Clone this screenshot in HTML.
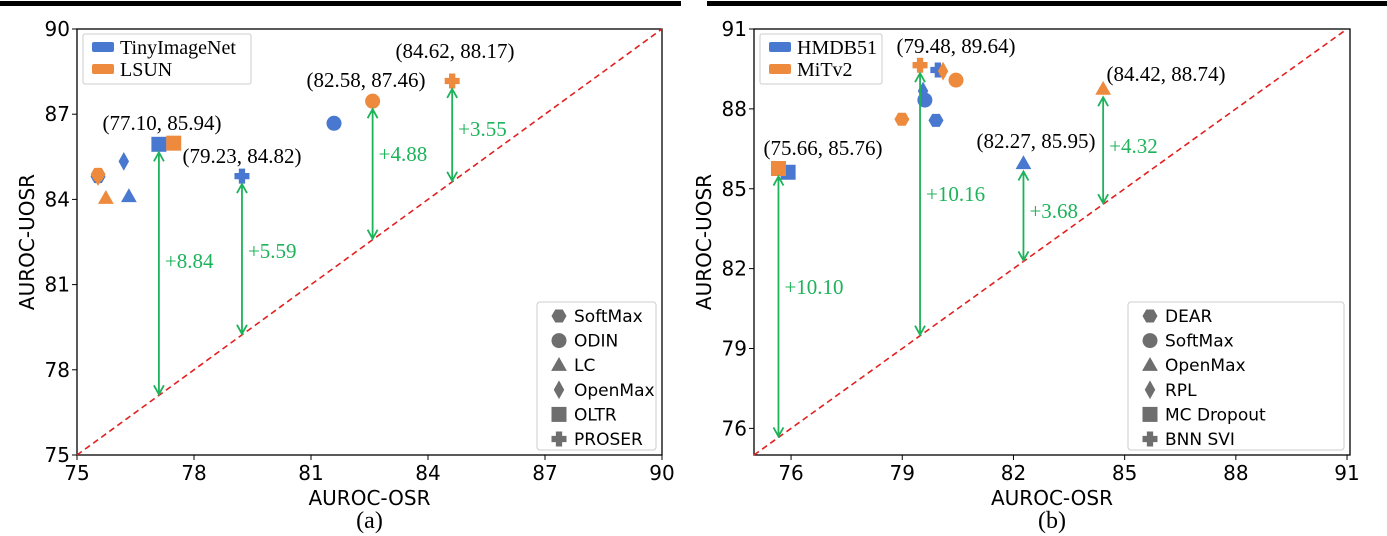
<!DOCTYPE html>
<html><head><meta charset="utf-8"><style>
body{margin:0;background:#fff;width:1387px;height:536px;overflow:hidden}
svg{display:block}
.tick{font-family:"DejaVu Sans","Liberation Sans",sans-serif;font-size:20px;fill:#000}
.ser{font-family:"Liberation Serif",serif;font-size:21px}
</style></head><body>
<svg id="fig" width="1387" height="536" xmlns="http://www.w3.org/2000/svg">
<rect x="0" y="1" width="681" height="5" fill="#000"/>
<rect x="707" y="1" width="680" height="5" fill="#000"/>
</svg>
<script>
// ---- Panel (a) data ----
const aTicks=[75,78,81,84,87,90];
const aMethods=["SoftMax","ODIN","LC","OpenMax","OLTR","PROSER"];
const aShapes=["hex","circle","tri","diamond","square","plus"];
const aBlueX=[75.54,81.59,76.33,76.2,77.10,79.23];
const aBlueY=[84.80,86.68,84.10,85.34,85.94,84.82];
const aOrangeX=[75.54,82.58,75.74,75.54,77.48,84.62];
const aOrangeY=[84.88,87.46,84.04,84.80,85.98,88.17];
const aArrowX=[77.10,79.23,82.58,84.62];
const aArrowY=[85.94,84.82,87.46,88.17];
const aGain=["+8.84","+5.59","+4.88","+3.55"];
// ---- Panel (b) data ----
const bTicks=[76,79,82,85,88,91];
const bMethods=["DEAR","SoftMax","OpenMax","RPL","MC Dropout","BNN SVI"];
const bBlueX=[79.91,79.61,82.27,79.56,75.92,79.96];
const bBlueY=[87.57,88.33,85.95,88.67,85.62,89.46];
const bOrangeX=[78.99,80.45,84.42,80.10,75.66,79.48];
const bOrangeY=[87.61,89.08,88.74,89.42,85.76,89.64];
const bArrowX=[75.66,79.48,82.27,84.42];
const bArrowY=[85.76,89.64,85.95,88.74];
const bGain=["+10.10","+10.16","+3.68","+4.32"];

const NS="http://www.w3.org/2000/svg";
const svg=document.getElementById('fig');
const BLUE="#4878cf",ORANGE="#ee8a3d",GREEN="#1db35a",GRAY="#6e6e6e";
function mk(tag,attrs,parent){const e=document.createElementNS(NS,tag);for(const k in attrs)e.setAttribute(k,attrs[k]);(parent||svg).appendChild(e);return e;}
function marker(shape,cx,cy,r,fill,g){
  let e;
  if(shape==="circle")e=mk("circle",{cx,cy,r,fill},g);
  else if(shape==="square")e=mk("rect",{x:cx-r,y:cy-r,width:2*r,height:2*r,fill},g);
  else if(shape==="tri")e=mk("polygon",{points:`${cx},${cy-r*1.1} ${cx-r*1.05},${cy+r*0.75} ${cx+r*1.05},${cy+r*0.75}`,fill},g);
  else if(shape==="diamond")e=mk("polygon",{points:`${cx},${cy-r*1.25} ${cx+r*0.7},${cy} ${cx},${cy+r*1.25} ${cx-r*0.7},${cy}`,fill},g);
  else if(shape==="hex"){let p=[];for(let i=0;i<6;i++){const a=Math.PI/3*i;p.push((cx+r*Math.cos(a))+","+(cy+r*Math.sin(a)));}e=mk("polygon",{points:p.join(" "),fill},g);}
  else {const w=r*0.42;e=mk("path",{d:`M${cx-w},${cy-r}h${2*w}v${r-w}h${r-w}v${2*w}h${-(r-w)}v${r-w}h${-2*w}v${-(r-w)}h${-(r-w)}v${-2*w}h${r-w}z`,fill},g);}
  return e;
}
function panel(o){
  const g=mk("g",{});
  
  
  const X=v=>o.x0+(v-o.xmin)/(o.xmax-o.xmin)*(o.x1-o.x0);
  const Y=v=>o.y1-(v-o.ymin)/(o.ymax-o.ymin)*(o.y1-o.y0);
  const frame=mk("rect",{x:o.x0,y:o.y0,width:o.x1-o.x0,height:o.y1-o.y0,fill:"none",stroke:"#000","stroke-width":1.3},g);
  
  
  o.ticks.forEach(t=>{
    const tx=mk("line",{x1:X(t),x2:X(t),y1:o.y1,y2:o.y1+5,stroke:"#000"},g);
    
    
    const lx=mk("text",{x:X(t),y:o.y1+25,"text-anchor":"middle",class:"tick"},g);lx.textContent=t;
    
    
  });
  o.yticks.forEach(t=>{
    const ty=mk("line",{x1:o.x0-5,x2:o.x0,y1:Y(t),y2:Y(t),stroke:"#000"},g);
    
    
    const ly=mk("text",{x:o.x0-7,y:Y(t)+7,"text-anchor":"end",class:"tick"},g);ly.textContent=t;
    
    
  });
  const xt=mk("text",{x:(o.x0+o.x1)/2,y:o.y1+50,"text-anchor":"middle",class:"tick"},g);xt.textContent="AUROC-OSR";
  
  
  const yt=mk("text",{x:0,y:0,"text-anchor":"middle",class:"tick",transform:`translate(${o.x0-43},${(o.y0+o.y1)/2}) rotate(-90)`},g);yt.textContent="AUROC-UOSR";
  
  
  const cap=mk("text",{x:(o.x0+o.x1)/2,y:o.y1+73,"text-anchor":"middle",class:"ser",style:"font-size:24px"},g);cap.textContent=o.caption;
  
  
  const lo=Math.max(o.xmin,o.ymin),hi=Math.min(o.xmax,o.ymax);
  const dg=mk("line",{x1:X(lo),y1:Y(lo),x2:X(hi),y2:Y(hi),stroke:"#e32020","stroke-width":1.6,"stroke-dasharray":"6,4"},g);
  
  
  for(let i=0;i<o.shapes.length;i++){
    const b=marker(o.shapes[i],X(o.bx[i]),Y(o.by[i]),7.5,BLUE,g);
    
    
  }
  for(let i=0;i<o.shapes.length;i++){
    const p=marker(o.shapes[i],X(o.ox[i]),Y(o.oy[i]),7.5,ORANGE,g);
    
    
  }
  for(let i=0;i<o.ax.length;i++){
    const x=X(o.ax[i]),ya=Y(o.ay[i])+8,yb=Y(o.ax[i])-1;
    const ar=mk("path",{d:`M${x},${ya}V${yb}M${x-5},${ya+9}L${x},${ya}L${x+5},${ya+9}M${x-5},${yb-9}L${x},${yb}L${x+5},${yb-9}`,stroke:GREEN,"stroke-width":1.8,fill:"none"},g);
    
    
    const gt=mk("text",{x:x+6,y:o.gY[i],class:"ser",fill:GREEN},g);gt.textContent=o.gain[i];
    
    
  }
  o.ann.forEach(a=>{
    const t=mk("text",{x:a[2],y:a[3],"text-anchor":"middle",class:"ser"},g);t.textContent=`(${a[0].toFixed(2)}, ${a[1].toFixed(2)})`;
    
    
  });
  const lg=mk("g",{},g);
  
  
  mk("rect",{x:o.x0+6,y:o.y0+5,width:o.lgW,height:50,fill:"#fff",stroke:"#ccc",rx:2},lg);
  [[o.s1,BLUE],[o.s2,ORANGE]].forEach((s,k)=>{
    mk("rect",{x:o.x0+15,y:o.y0+13+k*22,width:22,height:10,fill:s[1],rx:2},lg);
    const t=mk("text",{x:o.x0+43,y:o.y0+25+k*22,class:"ser",style:"font-size:20px"},lg);t.textContent=s[0];
    
    
  });
  const ml=mk("g",{},g);
  
  
  mk("rect",{x:o.mlx,y:302,width:o.x1-6-o.mlx,height:148,fill:"#fff",stroke:"#ccc",rx:3},ml);
  o.methods.forEach((m,k)=>{
    const cy=316+k*24.6;
    marker(o.shapes[k],o.mlx+22,cy,7.5,GRAY,ml);
    const t=mk("text",{x:o.mlx+37,y:cy+6,class:"tick",style:"font-size:17px"},ml);t.textContent=m;
    
    
  });
}
panel({name:"panel-a",x0:77,x1:662,y0:29,y1:455,xmin:75,xmax:90,ymin:75,ymax:90,ticks:aTicks,yticks:aTicks,caption:"(a)",
  shapes:aShapes,methods:aMethods,bx:aBlueX,by:aBlueY,ox:aOrangeX,oy:aOrangeY,ax:aArrowX,ay:aArrowY,gain:aGain,gY:[268,258,161,136],
  s1:"TinyImageNet",s2:"LSUN",lgW:168,mlx:537,
  ann:[[aArrowX[0],aArrowY[0],162,130],[aArrowX[1],aArrowY[1],242,163],[aArrowX[2],aArrowY[2],366,87],[aArrowX[3],aArrowY[3],455,58]]});
panel({name:"panel-b",x0:754,x1:1350,y0:29,y1:455,xmin:75,xmax:91.08,ymin:75,ymax:91,ticks:bTicks,yticks:bTicks,caption:"(b)",
  shapes:aShapes,methods:bMethods,bx:bBlueX,by:bBlueY,ox:bOrangeX,oy:bOrangeY,ax:bArrowX,ay:bArrowY,gain:bGain,gY:[294,201,218,153],
  s1:"HMDB51",s2:"MiTv2",lgW:122,mlx:1128,
  ann:[[bArrowX[0],bArrowY[0],823,155],[bArrowX[1],bArrowY[1],956,53],[bArrowX[2],bArrowY[2],1036,148],[bArrowX[3],bArrowY[3],1166,81]]});
</script>
</body></html>
